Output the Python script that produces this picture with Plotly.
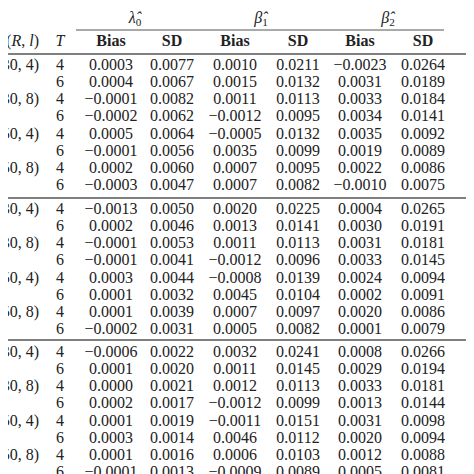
import plotly.graph_objects as go

groups = ["(30, 4)", "(30, 8)", "(50, 4)", "(50, 8)"]
T_vals = ["4", "6"]
lam_bias = ["0.0003","0.0004","−0.0001","−0.0002","0.0005","−0.0001","0.0002","−0.0003",
            "−0.0013","0.0002","−0.0001","−0.0001","0.0003","0.0001","0.0001","−0.0002",
            "−0.0006","0.0001","0.0000","0.0002","0.0001","0.0003","0.0001","−0.0001"]
lam_sd = ["0.0077","0.0067","0.0082","0.0062","0.0064","0.0056","0.0060","0.0047",
          "0.0050","0.0046","0.0053","0.0041","0.0044","0.0032","0.0039","0.0031",
          "0.0022","0.0020","0.0021","0.0017","0.0019","0.0014","0.0016","0.0013"]
b1_bias = ["0.0010","0.0015","0.0011","−0.0012","−0.0005","0.0035","0.0007","0.0007",
           "0.0020","0.0013","0.0011","−0.0012","−0.0008","0.0045","0.0007","0.0005",
           "0.0032","0.0011","0.0012","−0.0012","−0.0011","0.0046","0.0006","−0.0009"]
b1_sd = ["0.0211","0.0132","0.0113","0.0095","0.0132","0.0099","0.0095","0.0082",
         "0.0225","0.0141","0.0113","0.0096","0.0139","0.0104","0.0097","0.0082",
         "0.0241","0.0145","0.0113","0.0099","0.0151","0.0112","0.0103","0.0089"]
b2_bias = ["−0.0023","0.0031","0.0033","0.0034","0.0035","0.0019","0.0022","−0.0010",
           "0.0004","0.0030","0.0031","0.0033","0.0024","0.0002","0.0020","0.0001",
           "0.0008","0.0029","0.0033","0.0013","0.0031","0.0020","0.0012","0.0005"]
b2_sd = ["0.0264","0.0189","0.0184","0.0141","0.0092","0.0089","0.0086","0.0075",
         "0.0265","0.0191","0.0181","0.0145","0.0094","0.0091","0.0086","0.0079",
         "0.0266","0.0194","0.0181","0.0144","0.0098","0.0094","0.0088","0.0081"]

cols = [lam_bias, lam_sd, b1_bias, b1_sd, b2_bias, b2_sd]
col_x = [103, 164, 227, 290, 352, 415]
block_y0 = [58, 202, 345]
step = 17.15

FONT = "Liberation Serif"
fs = 16
fig = go.Figure()

ys = []
for b in range(3):
    for i in range(8):
        ys.append(block_y0[b] + i * step)

for cx, vals in zip(col_x, cols):
    fig.add_trace(go.Scatter(x=[cx]*len(vals), y=ys, text=vals, mode="text",
                             textfont=dict(family=FONT, size=fs, color="#222"),
                             hoverinfo="skip", showlegend=False))
fig.add_trace(go.Scatter(x=[52]*24, y=ys, text=[T_vals[i % 2] for i in range(24)], mode="text",
                         textfont=dict(family=FONT, size=fs, color="#222"), hoverinfo="skip", showlegend=False))
gy = [ys[i] for i in range(24) if i % 2 == 0]
gt = [groups[(i // 2) % 4] for i in range(24) if i % 2 == 0]
fig.add_trace(go.Scatter(x=[31]*len(gy), y=gy, text=gt, mode="text", textposition="middle left",
                         textfont=dict(family=FONT, size=fs, color="#222"), hoverinfo="skip", showlegend=False))

hdr_x = [31, 52] + col_x
hdr_t = ["(<i>R</i>, <i>l</i>)", "<i>T</i>"] + ["<b>Bias</b>", "<b>SD</b>"] * 3
fig.add_trace(go.Scatter(x=hdr_x, y=[34]*8, text=hdr_t, mode="text",
                         textposition=["middle left"] + ["middle center"]*7,
                         textfont=dict(family=FONT, size=fs, color="#222"), hoverinfo="skip", showlegend=False))
fig.add_trace(go.Scatter(x=[127, 253, 380], y=[11]*3,
                         text=["<i>λ̂</i><sub>0</sub>", "<i>β̂</i><sub>1</sub>", "<i>β̂</i><sub>2</sub>"],
                         mode="text", textfont=dict(family=FONT, size=fs, color="#222"),
                         hoverinfo="skip", showlegend=False))

shapes = [
    dict(type="line", x0=68, x1=436, y0=22, y1=22, line=dict(color="#555", width=1)),
    dict(type="line", x0=0, x1=474, y0=46, y1=46, line=dict(color="#555", width=1.5)),
    dict(type="line", x0=0, x1=474, y0=190, y1=190, line=dict(color="#555", width=1.5)),
    dict(type="line", x0=0, x1=474, y0=332, y1=332, line=dict(color="#555", width=1.5)),
]
fig.update_layout(width=474, height=474, margin=dict(l=0, r=0, t=0, b=0),
                  paper_bgcolor="white", plot_bgcolor="white", shapes=shapes,
                  xaxis=dict(range=[0, 474], visible=False, fixedrange=True),
                  yaxis=dict(range=[474, 0], visible=False, fixedrange=True))
fig.write_html("out.html", config={"displayModeBar": False})
